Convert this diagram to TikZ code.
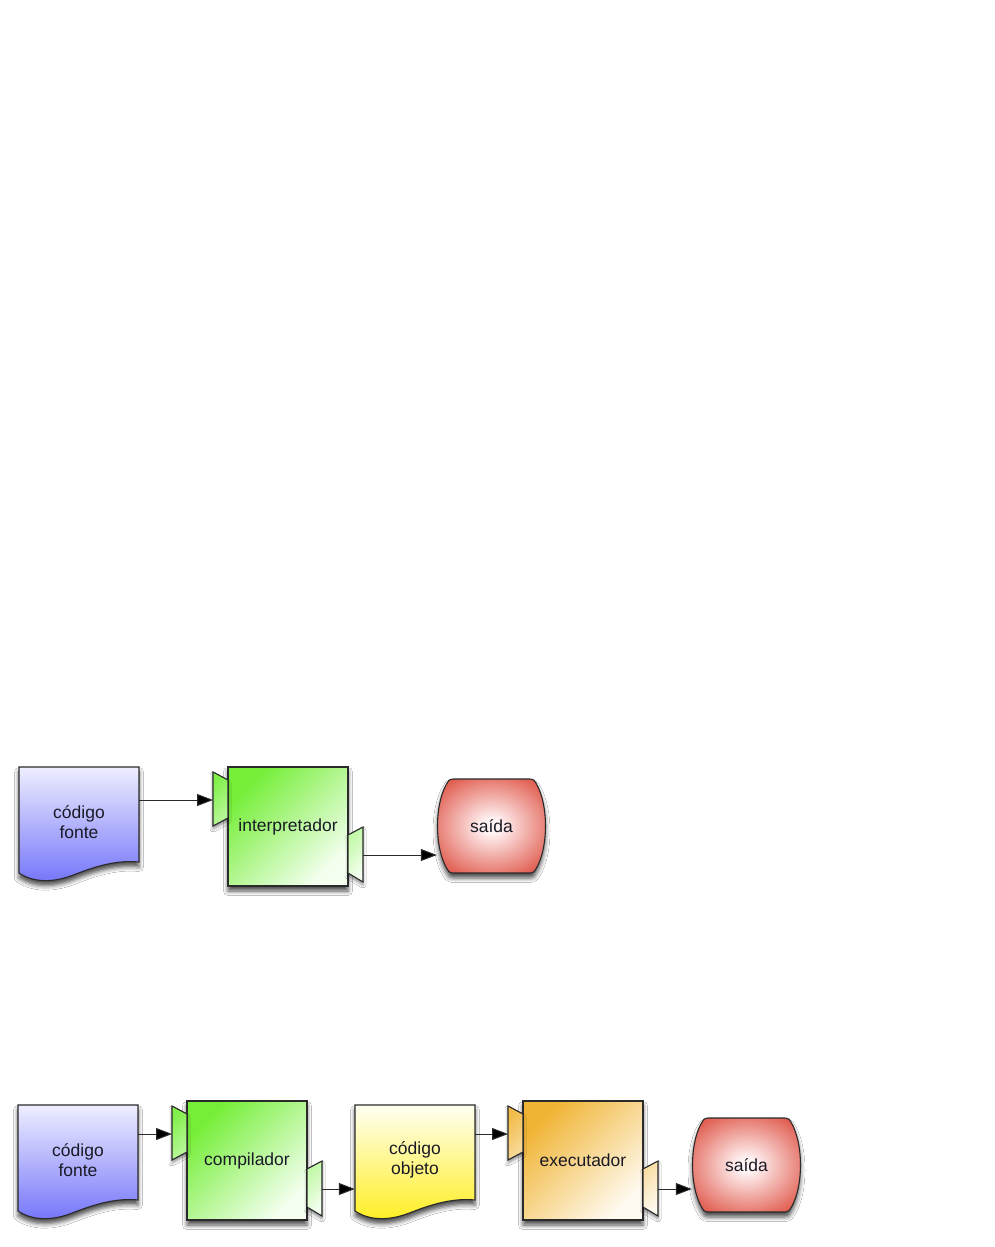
\documentclass[tikz,border=0pt]{standalone}
\usepackage{fontspec}
\setmainfont{Liberation Sans}
\usetikzlibrary{arrows.meta,shadows.blur}

\definecolor{inkc}{HTML}{1A1A26}
\definecolor{linec}{HTML}{2A2A2A}
\definecolor{docblueT}{HTML}{EEEEFF}
\definecolor{docblueB}{HTML}{7575FA}
\definecolor{docyelT}{HTML}{FFFFF2}
\definecolor{docyelB}{HTML}{FFEE22}
\definecolor{grnA}{HTML}{74EE36}
\definecolor{grnB}{HTML}{F4FFF0}
\definecolor{orgA}{HTML}{F0B434}
\definecolor{orgB}{HTML}{FFFAF0}
\definecolor{redO}{HTML}{DE5244}
\definecolor{redI}{HTML}{FFF2F2}

\pgfdeclareradialshading{saidashade}{\pgfpoint{0bp}{0bp}}{color(0bp)=(redI); color(4bp)=(redI); color(32bp)=(redO); color(50bp)=(redO)}

\tikzset{
  shad/.style={blur shadow={shadow xshift=0pt, shadow yshift=-5pt, shadow blur radius=4.5pt, shadow opacity=70}},
  tabshad/.style={blur shadow={shadow xshift=0pt, shadow yshift=-3pt, shadow blur radius=3pt, shadow opacity=45}},
  outline/.style={draw=linec, line width=1.1pt},
  txt/.style={font=\fontsize{17.5}{20.5}\selectfont, text=inkc, align=center, inner sep=0pt},
  arr/.style={draw=linec, line width=1pt, -{Triangle[length=16pt,width=12pt,fill=black]}},
}

% document shape: name, L, T, text, top colour, bottom colour
\newcommand\docshape[6]{%
  \path[shad, outline, top color=#5, bottom color=#6]
    (#2,#3) -- ({#2+120},#3) -- ({#2+120},{#3+95})
    .. controls ({#2+100},{#3+93}) and ({#2+80},{#3+98}) .. ({#2+57},{#3+107})
    .. controls ({#2+35},{#3+116}) and ({#2+15},{#3+116}) .. (#2,{#3+106}) -- cycle;
  \node[txt, minimum width=120pt] (#1) at ({#2+60},{#3+55}) {#4};
}

% process box with tabs: name, L, T, text, colour A, colour B
\newcommand\procbox[6]{%
  \path[shad, outline, top color=#5, bottom color=#6, shading angle=45]
    (#2,#3) rectangle ({#2+120},{#3+119});
  \path[tabshad, outline, top color=#5!90!#6, bottom color=#5!45!#6, shading angle=45]
    ({#2-15},{#3+5}) -- (#2,{#3+13}) -- (#2,{#3+51}) -- ({#2-15},{#3+59}) -- cycle;
  \path[tabshad, outline, top color=#5!40!#6, bottom color=#6, shading angle=45]
    ({#2+135},{#3+60}) -- ({#2+120},{#3+68}) -- ({#2+120},{#3+106}) -- ({#2+135},{#3+115}) -- cycle;
  \node[txt, minimum width=120pt, minimum height=119pt] (#1) at ({#2+60},{#3+59.5}) {#4};
  \coordinate (#1-in) at ({#2-15},{#3+33});
  \coordinate (#1-out) at ({#2+135},{#3+88});
}

% output shape: name, cx, cy
\newcommand\outshape[3]{%
  \path[shad, outline, shading=saidashade]
    ({#2-38},{#3-47}) -- ({#2+38},{#3-47})
    .. controls ({#2+42},{#3-47}) and ({#2+44},{#3-45}) .. ({#2+45},{#3-42})
    .. controls ({#2+57},{#3-21}) and ({#2+57},{#3+21}) .. ({#2+45},{#3+42})
    .. controls ({#2+44},{#3+45}) and ({#2+42},{#3+47}) .. ({#2+38},{#3+47})
    -- ({#2-38},{#3+47})
    .. controls ({#2-42},{#3+47}) and ({#2-44},{#3+45}) .. ({#2-45},{#3+42})
    .. controls ({#2-57},{#3+21}) and ({#2-57},{#3-21}) .. ({#2-45},{#3-42})
    .. controls ({#2-44},{#3-45}) and ({#2-42},{#3-47}) .. ({#2-38},{#3-47}) -- cycle;
  \node[txt, minimum width=109pt, minimum height=94pt] (#1) at (#2,#3) {saída};
}

\begin{document}
\begin{tikzpicture}[x=1pt,y=-1pt]
\fill[white] (0,0) rectangle (995,1247);
\useasboundingbox (0,0) rectangle (995,1247);

% top row: interpretation
\docshape{src1}{19}{767}{código\\fonte}{docblueT}{docblueB}
\procbox{interp}{228}{767}{interpretador}{grnA}{grnB}
\outshape{out1}{491.5}{826}
\draw[arr] (src1.east |- interp-in) -- (interp-in);
\draw[arr] (interp-out) -- (out1.west |- interp-out);

% bottom row: compilation
\docshape{src2}{18}{1105}{código\\fonte}{docblueT}{docblueB}
\procbox{comp}{187}{1101}{compilador}{grnA}{grnB}
\docshape{obj}{355}{1105}{código\\objeto}{docyelT}{docyelB}
\procbox{exec}{523}{1101}{executador}{orgA}{orgB}
\outshape{out2}{746.5}{1165}
\draw[arr] (src2.east |- comp-in) -- (comp-in);
\draw[arr] (comp-out) -- (obj.west |- comp-out);
\draw[arr] (obj.east |- exec-in) -- (exec-in);
\draw[arr] (exec-out) -- (out2.west |- exec-out);
\end{tikzpicture}
\end{document}
